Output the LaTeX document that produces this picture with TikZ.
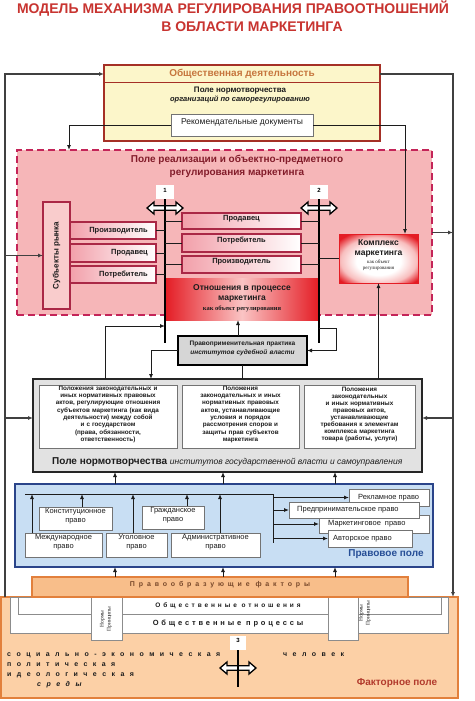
\documentclass[tikz,border=0pt]{standalone}
\usepackage{fontspec}
\setmainfont{Liberation Sans}
\newfontfamily\serifru{Liberation Serif}
\usetikzlibrary{arrows.meta,fit}
\newcommand\fsz[2]{\fontsize{#1}{#2}\selectfont}
\definecolor{titlered}{RGB}{200,52,48}
\definecolor{topfill}{RGB}{252,246,202}
\definecolor{topborder}{RGB}{165,48,38}
\definecolor{toptext}{RGB}{198,118,62}
\definecolor{pinkfield}{RGB}{246,182,184}
\definecolor{pinkdash}{RGB}{196,36,88}
\definecolor{maroon}{RGB}{130,28,42}
\definecolor{boxborder}{RGB}{170,40,70}
\definecolor{boxpink}{RGB}{242,160,170}
\definecolor{subjfill}{RGB}{249,204,204}
\definecolor{brred}{RGB}{228,28,36}
\definecolor{otnmid}{RGB}{250,196,196}
\definecolor{ppfill}{RGB}{214,214,214}
\definecolor{grayfill}{RGB}{226,226,226}
\definecolor{bluefill}{RGB}{200,222,243}
\definecolor{blueborder}{RGB}{42,68,138}
\definecolor{bluetext}{RGB}{38,78,150}
\definecolor{orfield}{RGB}{252,208,166}
\definecolor{orbox}{RGB}{248,190,138}
\definecolor{orborder}{RGB}{226,128,60}
\definecolor{brtext}{RGB}{120,72,42}
\definecolor{factred}{RGB}{178,58,44}
\definecolor{ink}{RGB}{28,28,28}
\pgfdeclareradialshading{kompsh}{\pgfpoint{0bp}{-4bp}}{color(0bp)=(white); color(14bp)=(white); color(24bp)=(rgb,255:red,248;green,190;blue,190); color(32bp)=(rgb,255:red,228;green,28;blue,36); color(50bp)=(rgb,255:red,228;green,28;blue,36)}
\begin{document}
\begin{tikzpicture}[x=1pt,y=-1pt,
  bx/.style={inner sep=0pt, outer sep=0pt},
  wbox/.style={bx, draw=black!55, line width=0.7, fill=white},
  pbox/.style={bx, draw=boxborder, line width=1.1, left color=boxpink, right color=white},
  ln/.style={draw=ink, line width=0.9},
  arr/.style={ln, -{Latex[length=5pt,width=4pt]}},
  oline/.style={draw=black!75, line width=1.3},
  oarr/.style={oline, -{Latex[length=5pt,width=4pt]}},
  bus/.style={draw=black, line width=2},
  numbox/.style={bx, fill=white, font=\bfseries\fsz{6}{7}},
  dbl/.pic={\draw[line width=1.3, fill=white, line join=miter] (-18,0) -- (-11,-6) -- (-11,-2.3) -- (11,-2.3) -- (11,-6) -- (18,0) -- (11,6) -- (11,2.3) -- (-11,2.3) -- (-11,6) -- cycle;},
  txt/.style={inner sep=0pt, text=ink},
  spaced/.style={txt, anchor=base west, font=\bfseries\fsz{7}{9}\addfontfeature{LetterSpace=78}}
]
\fill[white] (0,0) rectangle (474,701);
\useasboundingbox (0,0) rectangle (474,701);

% Title
\node[txt, anchor=base, font=\bfseries\fsz{14}{16}, text=titlered] (t1) at (233,14) {МОДЕЛЬ МЕХАНИЗМА РЕГУЛИРОВАНИЯ ПРАВООТНОШЕНИЙ};
\node[txt, anchor=base, font=\bfseries\fsz{14}{16}, text=titlered] (t2) at (252,32) {В ОБЛАСТИ МАРКЕТИНГА};

% Top box
\node[bx, fit={(104,65)(380,141)}, fill=topfill, draw=topborder, line width=2] (soc) {};
\draw[topborder, line width=0.8] (104,82) -- (380,82);
\node[txt, font=\bfseries\fsz{10}{12}, text=toptext] (soch) at (242,74) {Общественная деятельность};
\node[txt, font=\bfseries\fsz{8}{10}] (socp) at (240,90.5) {Поле нормотворчества};
\node[txt, font=\bfseries\itshape\fsz{7.5}{9}] (soco) at (240,99.5) {организаций по саморегулированию};
\node[wbox, fit={(171,114)(313,136)}, font=\fsz{8.5}{10}, text=ink] (rec) {Рекомендательные документы};

% Pink field
\node[bx, fit={(17,150)(432,315)}, fill=pinkfield, draw=pinkdash, line width=2.6, dash pattern=on 7pt off 4pt] (pf) {};
\node[txt, align=center, font=\bfseries\fsz{10}{13}, text=maroon] (pft) at (237,166.5) {Поле реализации и объектно-предметного\\регулирования маркетинга};
\node[numbox, fit={(156,185)(174,199)}] (n1) {1};
\node[numbox, fit={(310,185)(328,199)}] (n2) {2};
\coordinate (b1b) at (165,343);
\coordinate (b2b) at (319,343);

\node[bx, fit={(43,202)(70,309)}, fill=subjfill, draw=boxborder, line width=1.1] (subj) {};
\node[txt, rotate=90, font=\bfseries\fsz{8}{10}] (subjt) at (subj.center) {Субъекты рынка};
\node[pbox, fit={(70,222)(156,239)}] (lp1) {};
\node[pbox, fit={(70,244)(156,262)}] (lp2) {};
\node[pbox, fit={(70,266)(156,283)}] (lp3) {};
\node[txt, anchor=east, font=\bfseries\fsz{7.5}{9}] (lp1t) at ([xshift=-8]lp1.east) {Производитель};
\node[txt, anchor=east, font=\bfseries\fsz{7.5}{9}] (lp2t) at ([xshift=-8]lp2.east) {Продавец};
\node[txt, anchor=east, font=\bfseries\fsz{7.5}{9}] (lp3t) at ([xshift=-8]lp3.east) {Потребитель};
\node[pbox, fit={(182,213)(301,229)}, font=\bfseries\fsz{7.5}{9}, text=ink] (rp1) {Продавец};
\node[pbox, fit={(182,234)(301,252)}, font=\bfseries\fsz{7.5}{9}, text=ink] (rp2) {Потребитель};
\node[pbox, fit={(182,256)(301,273)}, font=\bfseries\fsz{7.5}{9}, text=ink] (rp3) {Производитель};

\node[bx, fit={(339,234)(418,283)}, shading=kompsh, draw=brred, line width=0.8] (komp) {};
\node[txt, align=center, font=\bfseries\fsz{8.5}{10.5}] (kompt) at (378.5,248.5) {Комплекс\\маркетинга};
\node[txt, align=center, font=\serifru\fsz{5}{6}] (kompo) at (378.5,265) {как объект\\регулирования};

\node[bx, fit={(165,278)(319,320)}, left color=brred, right color=brred, middle color=otnmid] (otn) {};
\node[txt, align=center, font=\bfseries\fsz{8.5}{10}] (otnt) at (242,293) {Отношения в процессе\\маркетинга};
\node[txt, font=\serifru\bfseries\fsz{6.5}{8}] (otno) at (242,309) {как объект регулирования};

\pic at (165,208) {dbl};
\pic at (319,208) {dbl};
\draw[bus] (n1.south) -- (b1b);
\draw[bus] (n2.south) -- (b2b);

% Pravoprimenitelnaya
\node[bx, fit={(178,336)(307,365)}, fill=ppfill, draw=black, line width=1.8, align=center, font=\bfseries\fsz{6.5}{9}, text=ink] (pp) {Правоприменительная практика\\{\itshape институтов судебной власти}};

% Gray box
\node[bx, fit={(33,379)(422,472)}, fill=grayfill, draw=black!85, line width=2.4] (gb) {};
\node[wbox, fit={(39,385)(177,448)}, align=center, font=\bfseries\fsz{6.3}{7.3}, text=ink] (ga) {Положения законодательных и\\иных нормативных правовых\\актов, регулирующие отношения\\субъектов маркетинга (как вида\\деятельности) между собой\\и с государством\\(права, обязанности,\\ответственность)};
\node[wbox, fit={(182,385)(299,448)}, align=center, font=\bfseries\fsz{6.3}{7.3}, text=ink] (gbb) {Положения\\законодательных и иных\\нормативных правовых\\актов, устанавливающие\\условия и порядок\\рассмотрения споров и\\защиты прав субъектов\\маркетинга};
\node[wbox, fit={(304,385)(415,448)}, align=center, font=\bfseries\fsz{6.3}{7.0}, text=ink] (gc) {Положения\\законодательных\\и иных нормативных\\правовых актов,\\устанавливающие\\требования к элементам\\комплекса маркетинга\\товара (работы, услуги)};
\node[txt, anchor=base west] (gbl) at (52,464) {\bfseries\fsz{10}{12}Поле нормотворчества \mdseries\itshape\fsz{8.5}{10}институтов государственной власти и самоуправления};

% Blue field
\node[bx, fit={(15,484)(433,567)}, fill=bluefill, draw=blueborder, line width=2] (bf) {};
\node[wbox, fit={(39,507)(112,530)}, align=center, font=\fsz{7.5}{9}, text=ink] (kon) {Конституционное\\право};
\node[wbox, fit={(142,506)(204,529)}, align=center, font=\fsz{7.5}{9}, text=ink] (gra) {Гражданское\\право};
\node[wbox, fit={(25,533)(102,557)}, align=center, font=\fsz{7.5}{9}, text=ink] (mez) {Международное\\право};
\node[wbox, fit={(106,533)(167,557)}, align=center, font=\fsz{7.5}{9}, text=ink] (ugo) {Уголовное\\право};
\node[wbox, fit={(171,533)(260,557)}, align=center, font=\fsz{7.5}{9}, text=ink] (adm) {Административное\\право};
\node[wbox, fit={(349,489)(429,506)}] (rek) {};
\node[wbox, fit={(319,515)(429,533)}] (mar) {};
\node[wbox, fit={(289,502)(419,518)}] (pre) {};
\node[wbox, fit={(328,530)(412,547)}] (avt) {};
\node[txt, anchor=west, font=\fsz{7.5}{9}] (rekt) at ([xshift=9]rek.west) {Рекламное право};
\node[txt, anchor=west, font=\fsz{7.5}{9}] (pret) at ([xshift=8]pre.west) {Предпринимательское право};
\node[txt, anchor=west, font=\fsz{7.5}{9}] (mart) at ([xshift=9]mar.west) {Маркетинговое\hspace{2pt} право};
\node[txt, anchor=west, font=\fsz{7.5}{9}] (avtt) at ([xshift=5]avt.west) {Авторское право};
\node[txt, font=\bfseries\fsz{10}{12}, text=bluetext] (bfl) at (386,554) {Правовое поле};
\coordinate (h1) at (25,494);
\coordinate (h2) at (273,494);
\coordinate (h3) at (273,543);

% Orange factor field
\node[bx, fit={(1,597)(458,698)}, fill=orfield, draw=orborder, line width=1.6] (ff) {};
\node[bx, fit={(10,597)(448,633)}, fill=white, draw=black!45, line width=0.7] (op) {};
\node[bx, fit={(18,597)(441,614)}, fill=white, draw=black!45, line width=0.7] (oo) {};
\node[bx, fit={(91,597)(122,640)}, fill=white, draw=black!45, line width=0.7] (np1) {};
\node[bx, fit={(328,597)(358,640)}, fill=white, draw=black!45, line width=0.7] (np2) {};
\node[bx, fit={(32,577)(408,597)}, fill=orbox, draw=orborder, line width=1.5, font=\bfseries\fsz{7}{9}\addfontfeature{LetterSpace=55}, text=brtext] (prf) {Правообразующие факторы};
\node[txt, rotate=90, align=center, font=\serifru\fsz{5.5}{7}] (np1t) at (106,619) {Нормы\\Принципы};
\node[txt, rotate=90, align=center, font=\serifru\fsz{5.5}{7}] (np2t) at (365,613) {Нормы\\Принципы};
\node[txt, font=\bfseries\fsz{6.5}{8}\addfontfeature{LetterSpace=45}] (oot) at (228,606) {Общественные отношения};
\node[txt, font=\bfseries\fsz{7.5}{9}\addfontfeature{LetterSpace=38}] (opt) at (228,624) {Общественные процессы};
\node[numbox, fit={(230,636)(246,650)}] (n3) {3};
\coordinate (b3b) at (238,687);
\pic at (238,668) {dbl};
\draw[bus] (n3.south) -- (b3b);
\node[spaced] (s1) at (7,656) {социально-экономическая};
\node[spaced] (s2) at (283,656) {человек};
\node[spaced] (s3) at (7,666) {политическая};
\node[spaced] (s4) at (7,676) {идеологическая};
\node[spaced, font=\bfseries\itshape\fsz{7}{9}\addfontfeature{LetterSpace=78}] (s5) at (37,686) {среды};
\node[txt, font=\bfseries\fsz{10}{12}, text=factred] (ffl) at (397,683) {Факторное поле};

% ---------- connectors ----------
\foreach \n in {lp1,lp2,lp3} \draw[ln] (\n.east) -- (\n.east -| b1b);
\foreach \n in {rp1,rp2,rp3} {\draw[ln] (\n.west -| b1b) -- (\n.west); \draw[ln] (\n.east) -- (\n.east -| b2b);}
\draw[ln] (komp.west) -- (komp.west -| b2b);

\coordinate (c5) at (69,0);
\draw[arr] (rec.west) -| (pf.north -| c5);
\coordinate (c6) at (405,0);
\draw[arr] (rec.east) -| (komp.north -| c6);

\coordinate (c1) at (105,326);
\draw[arr] (gb.north -| c1) |- (c1 -| b1b);
\coordinate (c4) at ([xshift=-4.5]pp.north);
\draw[arr] (c4) -- (c4 |- otn.south);
\coordinate (c2) at (151,0);
\draw[arr] (pp.west) -| (gb.north -| c2);
\draw[ln] (pp.south) -- (pp.south |- gb.north);
\coordinate (c3) at (336,328);
\draw[arr] (c3 -| b2b) -- (c3) |- (pp.east);
\draw[arr] (komp.south |- gb.north) -- (komp.south);

\draw[ln] (h1) -- (h2) -- (h3);
\coordinate (a1) at (32,494);
\coordinate (a2) at (82,494);
\coordinate (a3) at (133,494);
\coordinate (a4) at (187,494);
\coordinate (a5) at (220,494);
\draw[arr] (mez.north -| a1) -- (a1);
\draw[arr] (kon.north -| a2) -- (a2);
\draw[arr] (ugo.north -| a3) -- (a3);
\draw[arr] (gra.north -| a4) -- (a4);
\draw[arr] (adm.north -| a5) -- (a5);
\foreach \n in {rek,pre,mar,avt} \draw[arr] (\n.west -| h2) -- (\n.west);

\foreach \x in {115,223,335} {
  \coordinate (v\x) at (\x,0);
  \draw[arr] (bf.north -| v\x) -- (gb.south -| v\x);
  \draw[arr] (prf.north -| v\x) -- (bf.south -| v\x);
}

\coordinate (L) at (5,74);
\coordinate (R) at (453,74);
\coordinate (c7) at (0,418);
\draw[oarr] (ff.north -| L) |- (soc.west |- L);
\draw[oarr] (soc.east |- R) -| (ff.north -| R);
\draw[oarr] (pf.east) -- (pf.east -| R);
\draw[oarr] (R |- c7) -- (gb.east |- c7);
\draw[oarr] (L |- subj.west) -- (subj.west);
\draw[oarr] (L |- c7) -- (gb.west |- c7);
\end{tikzpicture}
\end{document}
